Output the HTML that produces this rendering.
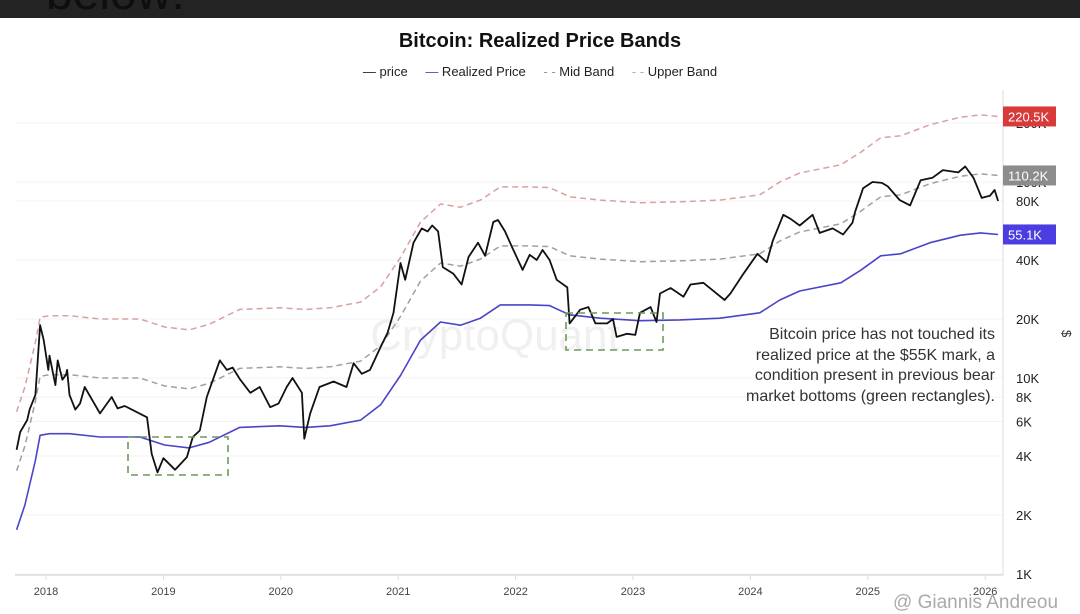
<!DOCTYPE html>
<html><head><meta charset="utf-8">
<style>
html,body{margin:0;padding:0;background:#fff;}
body{width:1080px;height:607px;overflow:hidden;position:relative;font-family:"Liberation Sans",sans-serif;}
#topbar{position:absolute;left:0;top:0;width:1080px;height:18px;background:#232323;overflow:hidden;}
#topbar span{position:absolute;left:46px;top:-34px;font-size:48px;color:#0e0e0e;}
#title{position:absolute;left:0;width:1080px;top:30px;text-align:center;font-weight:bold;font-size:20px;color:#111;}
#legend{position:absolute;left:0;width:1080px;top:64px;text-align:center;font-size:13px;color:#222;}
.lg{display:inline-block;margin:0 7px;}
#note{position:absolute;right:85px;top:325px;text-align:right;font-size:16px;line-height:20.5px;color:#333;}
#credit{position:absolute;left:893px;top:592px;font-size:19px;color:#aaa;}
#chart{position:absolute;left:0;top:0;}
</style></head>
<body>
<div id="topbar"><span>below:</span></div>
<div id="title">Bitcoin: Realized Price Bands</div>
<div id="legend">
<span class="lg">— price</span>
<span class="lg"><span style="color:#4a44c8">—</span> Realized Price</span>
<span class="lg"><span style="color:#999">- -</span> Mid Band</span>
<span class="lg"><span style="color:#d99">- -</span> Upper Band</span>
</div>
<svg id="chart" width="1080" height="607"></svg>
<div id="note">Bitcoin price has not touched its<br>realized price at the $55K mark, a<br>condition present in previous bear<br>market bottoms (green rectangles).</div>
<div id="credit">@ Giannis Andreou</div>
<script>
const yearTicks=[2018,2019,2020,2021,2022,2023,2024,2025,2026];
const yTickVals=[1,2,4,6,8,10,20,40,80,100,200];
const yTickLabels=["1K","2K","4K","6K","8K","10K","20K","40K","80K","100K","200K"];
// dates as years since 2000 (e.g. 17.75 = Oct 2017)
const priceT=[17.75,17.78,17.84,17.86,17.91,17.95,17.98,18.02,18.03,18.08,18.10,18.14,18.17,18.18,18.20,18.25,18.29,18.33,18.46,18.56,18.61,18.67,18.86,18.90,18.95,19.00,19.10,19.20,19.25,19.31,19.37,19.48,19.54,19.59,19.65,19.74,19.82,19.91,19.98,20.05,20.10,20.18,20.20,20.25,20.33,20.45,20.56,20.62,20.69,20.76,20.85,20.91,20.96,21.02,21.06,21.13,21.20,21.25,21.29,21.34,21.38,21.47,21.54,21.60,21.68,21.74,21.81,21.85,21.91,21.97,22.06,22.12,22.18,22.23,22.29,22.35,22.44,22.46,22.55,22.62,22.68,22.78,22.83,22.86,22.95,23.02,23.06,23.15,23.20,23.23,23.32,23.43,23.49,23.60,23.68,23.78,23.83,23.94,24.06,24.14,24.19,24.28,24.34,24.42,24.53,24.59,24.70,24.79,24.87,24.89,24.96,25.04,25.12,25.17,25.27,25.36,25.45,25.55,25.64,25.77,25.83,25.90,25.97,26.04,26.08,26.11];
const priceK=[4.3,5.3,6.1,6.9,8.2,18.6,15.6,11,13,9.2,12.3,9.8,10.4,11,8.2,6.9,7.4,9.0,6.6,8.0,7.0,7.2,6.3,4.1,3.3,3.9,3.4,3.95,5.0,5.4,8.0,12.3,11,11.3,9.9,8.4,9.0,7.1,7.4,9.0,10.0,8.4,4.9,6.6,9.0,9.6,9.0,11.9,10.5,11,14.4,17,21.5,38.6,31.7,49,58,56,60,56,36.8,34,30,41.5,49,42,62.5,64,56,46.5,35.6,42.5,40,45,40,31.7,29,19,22.3,23,19,19,20,16.2,16.8,16.6,21.5,23,19.3,27,28.8,26,30,30.6,28,25,27,34,43,39,50,68,65,60,68,55,58,54,62,70,93,100,99,95,81,76,102,105,115,112,120,105,83,85,91,80,62];
const realT=[17.75,17.82,17.91,17.95,18.03,18.20,18.46,18.80,19.01,19.22,19.39,19.65,19.99,20.21,20.42,20.68,20.85,21.02,21.19,21.36,21.53,21.70,21.87,22.12,22.29,22.46,22.72,23.06,23.40,23.74,24.08,24.25,24.42,24.77,24.94,25.11,25.28,25.53,25.79,25.96,26.11];
const realK=[1.68,2.25,3.8,5.1,5.2,5.2,5.0,5.0,4.55,4.4,4.7,5.6,5.7,5.6,5.7,6.1,7.3,10.3,15.6,19.3,18.6,20.2,23.6,23.6,23.4,21,20.2,19.6,19.8,20.2,21.5,25,27.8,30.6,35.5,42,43,49,53.5,55,54];
const MID_MULT=2, UPPER_MULT=4;
const labelUpper="220.5K", labelMid="110.2K", labelReal="55.1K";

const NS="http://www.w3.org/2000/svg";
const svg=document.getElementById('chart');
const X0=15,X1=1003,Y0=574;
function xs(t){return 46+(t-18)*117.4;}
function ys(k){return Y0-196*Math.log10(k);}
function mk(tag,attrs,parent){const e=document.createElementNS(NS,tag);for(const a in attrs)e.setAttribute(a,String(attrs[a]));(parent||svg).appendChild(e);return e;}

yTickVals.forEach((v,i)=>{
  const y=ys(v);
  const g=mk('line',{x1:X0,x2:X1,y1:y,y2:y,stroke:'#f3f3f3','stroke-width':1});
  
  
  const t=mk('text',{x:1016,y:y+5,'font-size':13,fill:'#222','font-family':'Liberation Sans, sans-serif'});
  t.textContent=yTickLabels[i];
  
  
});
const ax=mk('line',{x1:X0,x2:X1,y1:Y0+1,y2:Y0+1,stroke:'#ddd','stroke-width':1.5});


const ay=mk('line',{x1:X1,x2:X1,y1:90,y2:Y0+1,stroke:'#ddd','stroke-width':1});


yearTicks.forEach(yr=>{
  const x=xs(yr-2000);
  const tk=mk('line',{x1:x,x2:x,y1:Y0+1,y2:Y0+6,stroke:'#ddd'});
  
  
  const t=mk('text',{x:x,y:595,'text-anchor':'middle','font-size':11,fill:'#444','font-family':'Liberation Sans, sans-serif'});
  t.textContent=yr;
  
  
});
const dol=mk('text',{x:1057,y:335,'font-size':13,fill:'#333',transform:'rotate(90 1062 335)','font-family':'Liberation Sans, sans-serif'});
dol.textContent='$';


const wm=mk('text',{x:495,y:350,'text-anchor':'middle','font-size':44,fill:'#f0f0f0','font-family':'Liberation Sans, sans-serif'});
wm.textContent='CryptoQuant';



function pathD(T,V,mult){
  const n=Math.min(T.length,V.length);let d='';
  for(let i=0;i<n;i++){d+=(i?'L':'M')+xs(T[i]).toFixed(1)+' '+ys(V[i]*mult).toFixed(1)+' ';}
  return d;
}
const up=mk('path',{d:pathD(realT,realK,UPPER_MULT),fill:'none',stroke:'#d9a0a0','stroke-width':1.5,'stroke-dasharray':'6 4'});


const midL=mk('path',{d:pathD(realT,realK,MID_MULT),fill:'none',stroke:'#a0a0a0','stroke-width':1.5,'stroke-dasharray':'6 4'});


const rp=mk('path',{d:pathD(realT,realK,1),fill:'none',stroke:'#4a44c8','stroke-width':1.6,'stroke-linejoin':'round'});


const pr=mk('path',{d:pathD(priceT,priceK,1),fill:'none',stroke:'#111','stroke-width':1.8,'stroke-linejoin':'round'});



[[128,437,100,38],[566,313,97,37]].forEach(r=>{
  const g=mk('rect',{x:r[0],y:r[1],width:r[2],height:r[3],fill:'none',stroke:'#6a9a5a','stroke-width':1.6,'stroke-dasharray':'7 5'});
  
  
});

function badge(val,label,color,name){
  const last=realK[realK.length-1]*val;
  const y=ys(last);
  const r=mk('rect',{x:1003,y:y-10,width:53,height:20,fill:color});
  
  
  const t=mk('text',{x:1008,y:y+5,'font-size':13,fill:'#fff','font-family':'Liberation Sans, sans-serif'});
  t.textContent=label;
  
  
}
badge(UPPER_MULT,labelUpper,'#d83a3a','upper-band-badge');
badge(MID_MULT,labelMid,'#8c8c8c','mid-band-badge');
badge(1,labelReal,'#4b3de0','realized-price-badge');
</script>
</body></html>
